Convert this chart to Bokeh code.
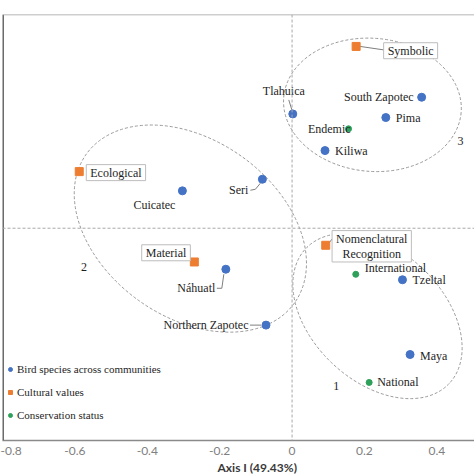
from bokeh.plotting import figure
from bokeh.models import (ColumnDataSource, Range1d, Span, Label, Legend,
                          LegendItem, FixedTicker, Title)
from bokeh.core.properties import value
from bokeh.embed import file_html
from bokeh.resources import INLINE

# --- data: correspondence-analysis coordinates (Axis I, Axis II) ---
species = ["Tlahuica", "South Zapotec", "Pima", "Kiliwa", "Seri", "Cuicatec",
           "Náhuatl", "Northern Zapotec", "Tzeltal", "Maya"]
species_x = [0.002, 0.358, 0.259, 0.091, -0.082, -0.303, -0.183, -0.072, 0.305, 0.326]
species_y = [0.315, 0.361, 0.305, 0.214, 0.135, 0.103, -0.113, -0.267, -0.142, -0.348]

cultural = ["Symbolic", "Ecological", "Material", "Nomenclatural\nRecognition"]
cultural_x = [0.177, -0.588, -0.270, 0.093]
cultural_y = [0.501, 0.156, -0.093, -0.047]

status = ["Endemic", "International", "National"]
status_x = [0.156, 0.176, 0.213]
status_y = [0.274, -0.127, -0.425]

# groups drawn as dashed ellipses
cluster_names = ["1", "2", "3"]
cluster_cx = [0.236, -0.281, 0.222]
cluster_cy = [-0.242, -0.001, 0.340]
cluster_w = [0.544, 0.707, 0.492]
cluster_h = [0.361, 0.488, 0.367]
cluster_angle = [-0.754, -0.621, -0.086]
cluster_label_x = [0.122, -0.575, 0.465]
cluster_label_y = [-0.436, -0.108, 0.240]

x_ticks = [-0.8, -0.6, -0.4, -0.2, 0, 0.2, 0.4, 0.6]
x_tick_labels = ["-0.8", "-0.6", "-0.4", "-0.2", "0", "0.2", "0.4", "0.6"]
x_title = "Axis I (49.43%)"
legend_labels = ["Bird species across communities", "Cultural values", "Conservation status"]

# --- styling ---
BLUE, ORANGE, GREEN = "#4472C4", "#ED7D31", "#2EA05A"
TEXT = "#1e1e1e"
SERIF = "Liberation Serif"
PX = 1 / 362.0  # data units per screen pixel

# label placement (screen px: dx right, dy down, alignment)
species_lbl = [(-9, -23, "center"), (-8, 0, "right"), (10, 0, "left"), (10, 0, "left"),
               (-14, 11, "right"), (-28, 14, "center"), (-10.5, 19, "right"),
               (-17.5, 0, "right"), (10, 0, "left"), (10, 1, "left")]
status_lbl = [(2, 0, "right"), (9, -6, "left"), (8, 0, "left")]
cultural_box = [(54.5, 4.3), (36.7, 1), (-28.3, -9.2), (46, 1)]

# leader lines from a mark to its label (screen px relative to the mark)
leaders = [
    (species_x[0], species_y[0], [(-4, -14), (0, -1)]),
    (species_x[4], species_y[4], [(-12, 11), (-7, 10), (-2, 4)]),
    (species_x[6], species_y[6], [(-9, 19), (-4, 19), (-2, 5)]),
    (species_x[7], species_y[7], [(-16, 0), (-5, 0)]),
    (cultural_x[0], cultural_y[0], [(4, 0), (28, 3.5)]),
    (cultural_x[3], cultural_y[3], [(3, -2), (7, -7)]),
]

p = figure(width=474, height=474, output_backend="svg", toolbar_location=None,
           x_range=Range1d(-0.8, 0.504), y_range=Range1d(-0.585, 0.589),
           y_axis_location=None, min_border_left=2, min_border_right=0,
           min_border_top=14, min_border_bottom=0)
p.outline_line_color = None
p.grid.visible = False
p.background_fill_color = "white"
p.border_fill_color = "white"

ax = p.xaxis[0]
ax.ticker = FixedTicker(ticks=x_ticks)
ax.major_label_overrides = dict(zip(x_ticks, x_tick_labels))
ax.major_tick_line_color = None
ax.minor_tick_line_color = None
ax.major_tick_out = 0
ax.major_tick_in = 0
ax.major_label_standoff = 6
ax.axis_line_color = "#8a8a8a"
ax.axis_line_width = 1.5
ax.major_label_text_font = "Lato"
ax.major_label_text_font_size = "12px"
ax.major_label_text_color = "#808080"

# axis title, placed under the middle of the full -0.8..0.6 axis
p.add_layout(Title(text=x_title, align="left", offset=215, standoff=0,
                   text_font="Lato", text_font_style="bold", text_font_size="12px",
                   text_color="#3a3a3a"), "below")

# frame edges and zero lines
p.add_layout(Span(location=-0.8, dimension="height", line_color="#6b6b6b", line_width=3))
p.add_layout(Span(location=0.589, dimension="width", line_color="#9e9e9e", line_width=1.5))
p.add_layout(Span(location=0, dimension="height", line_color="#a8a8a8",
                  line_dash="3 2", line_width=1))
p.add_layout(Span(location=0, dimension="width", line_color="#a8a8a8",
                  line_dash="3 2", line_width=1))

# group ellipses
p.ellipse(x=cluster_cx, y=cluster_cy, width=cluster_w, height=cluster_h,
          angle=cluster_angle, fill_color=None, line_color="#9a9a9a",
          line_dash="3 2", line_width=1)
p.text(x=cluster_label_x, y=cluster_label_y, text=cluster_names,
       text_font=value(SERIF), text_font_size="12px", text_color=TEXT,
       text_align="center", text_baseline="middle")

# leader lines
lx, ly = [], []
for mx, my, pts in leaders:
    lx.append([mx + dx * PX for dx, dy in pts])
    ly.append([my - dy * PX for dx, dy in pts])
p.multi_line(xs=lx, ys=ly, line_color="#7f7f7f", line_width=1)

# marks
r_sp = p.scatter(species_x, species_y, marker="circle", size=8, fill_color=BLUE,
                 line_color=BLUE)
r_cu = p.scatter(cultural_x, cultural_y, marker="square", size=8, fill_color=ORANGE,
                 line_color=ORANGE)
r_st = p.scatter(status_x, status_y, marker="circle", size=6, fill_color=GREEN,
                 line_color=GREEN)

# plain labels
lab = ColumnDataSource(dict(
    x=species_x + status_x, y=species_y + status_y, t=species + status,
    dx=[a for a, b, c in species_lbl + status_lbl],
    dy=[b for a, b, c in species_lbl + status_lbl],
    al=[c for a, b, c in species_lbl + status_lbl]))
p.text(x="x", y="y", text="t", x_offset="dx", y_offset="dy", text_align="al",
       text_baseline="middle", text_font=value(SERIF), text_font_size="12px",
       text_color=TEXT, source=lab)

# boxed labels for cultural values
for name, cx, cy, (dx, dy) in zip(cultural, cultural_x, cultural_y, cultural_box):
    p.add_layout(Label(x=cx, y=cy, x_offset=dx, y_offset=-dy, text=name,
                       text_align="center", text_baseline="middle",
                       text_font=SERIF, text_font_size="12px", text_color=TEXT,
                       text_line_height=1.1,
                       background_fill_color="white",
                       border_line_color="#bdbdbd", border_line_width=1,
                       padding=dict(left=4, right=4, top=1, bottom=1)))

legend = Legend(items=[LegendItem(label=legend_labels[0], renderers=[r_sp]),
                       LegendItem(label=legend_labels[1], renderers=[r_cu]),
                       LegendItem(label=legend_labels[2], renderers=[r_st])],
                location=(3, 15), glyph_width=10, glyph_height=10, label_standoff=2,
                spacing=3, padding=0, margin=0, label_height=20,
                label_text_font=SERIF, label_text_font_size="11px",
                label_text_color=TEXT, background_fill_alpha=0,
                border_line_color=None)
p.add_layout(legend)

open("out.html", "w").write(file_html(p, INLINE))
